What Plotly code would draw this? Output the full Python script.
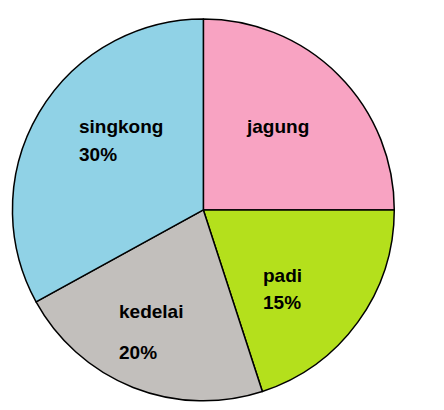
import plotly.graph_objects as go

# slices as drawn (clockwise from 12 o'clock)
crops = ["jagung", "padi", "kedelai", "singkong"]
shares = [25, 20, 22, 33]
label_pct = ["", "15%", "20%", "30%"]
colors = ["#F8A3C2", "#B4E01C", "#C2BFBC", "#90D2E6"]

fig = go.Figure(go.Pie(
    labels=crops, values=shares, sort=False, direction="clockwise", rotation=0,
    marker=dict(colors=colors, line=dict(color="black", width=1.5)),
    textinfo="none", hoverinfo="label", showlegend=False,
    domain=dict(x=[0.01, 0.87], y=[0.04, 0.975]),
))

# label anchors (paper coords, left edge of text)
name_pos = [(236, 106), (253, 267), (109, 316), (69, 106)]
pct_pos = [None, (253, 307), (109, 357), (69, 146)]
W, H = 444, 410
for name, pct, p1, p2 in zip(crops, label_pct, name_pos, pct_pos):
    fig.add_annotation(x=p1[0] / W, y=1 - p1[1] / H, xref="paper", yref="paper",
                       text="<b>%s</b>" % name, showarrow=False, xanchor="left",
                       font=dict(family="Liberation Sans, Arial", size=19, color="black"))
    if p2:
        fig.add_annotation(x=p2[0] / W, y=1 - p2[1] / H, xref="paper", yref="paper",
                           text="<b>%s</b>" % pct, showarrow=False, xanchor="left",
                           font=dict(family="Liberation Sans, Arial", size=19, color="black"))

fig.update_layout(width=444, height=410, margin=dict(l=0, r=0, t=0, b=0),
                  paper_bgcolor="white", plot_bgcolor="white")
fig.write_html("out.html")
